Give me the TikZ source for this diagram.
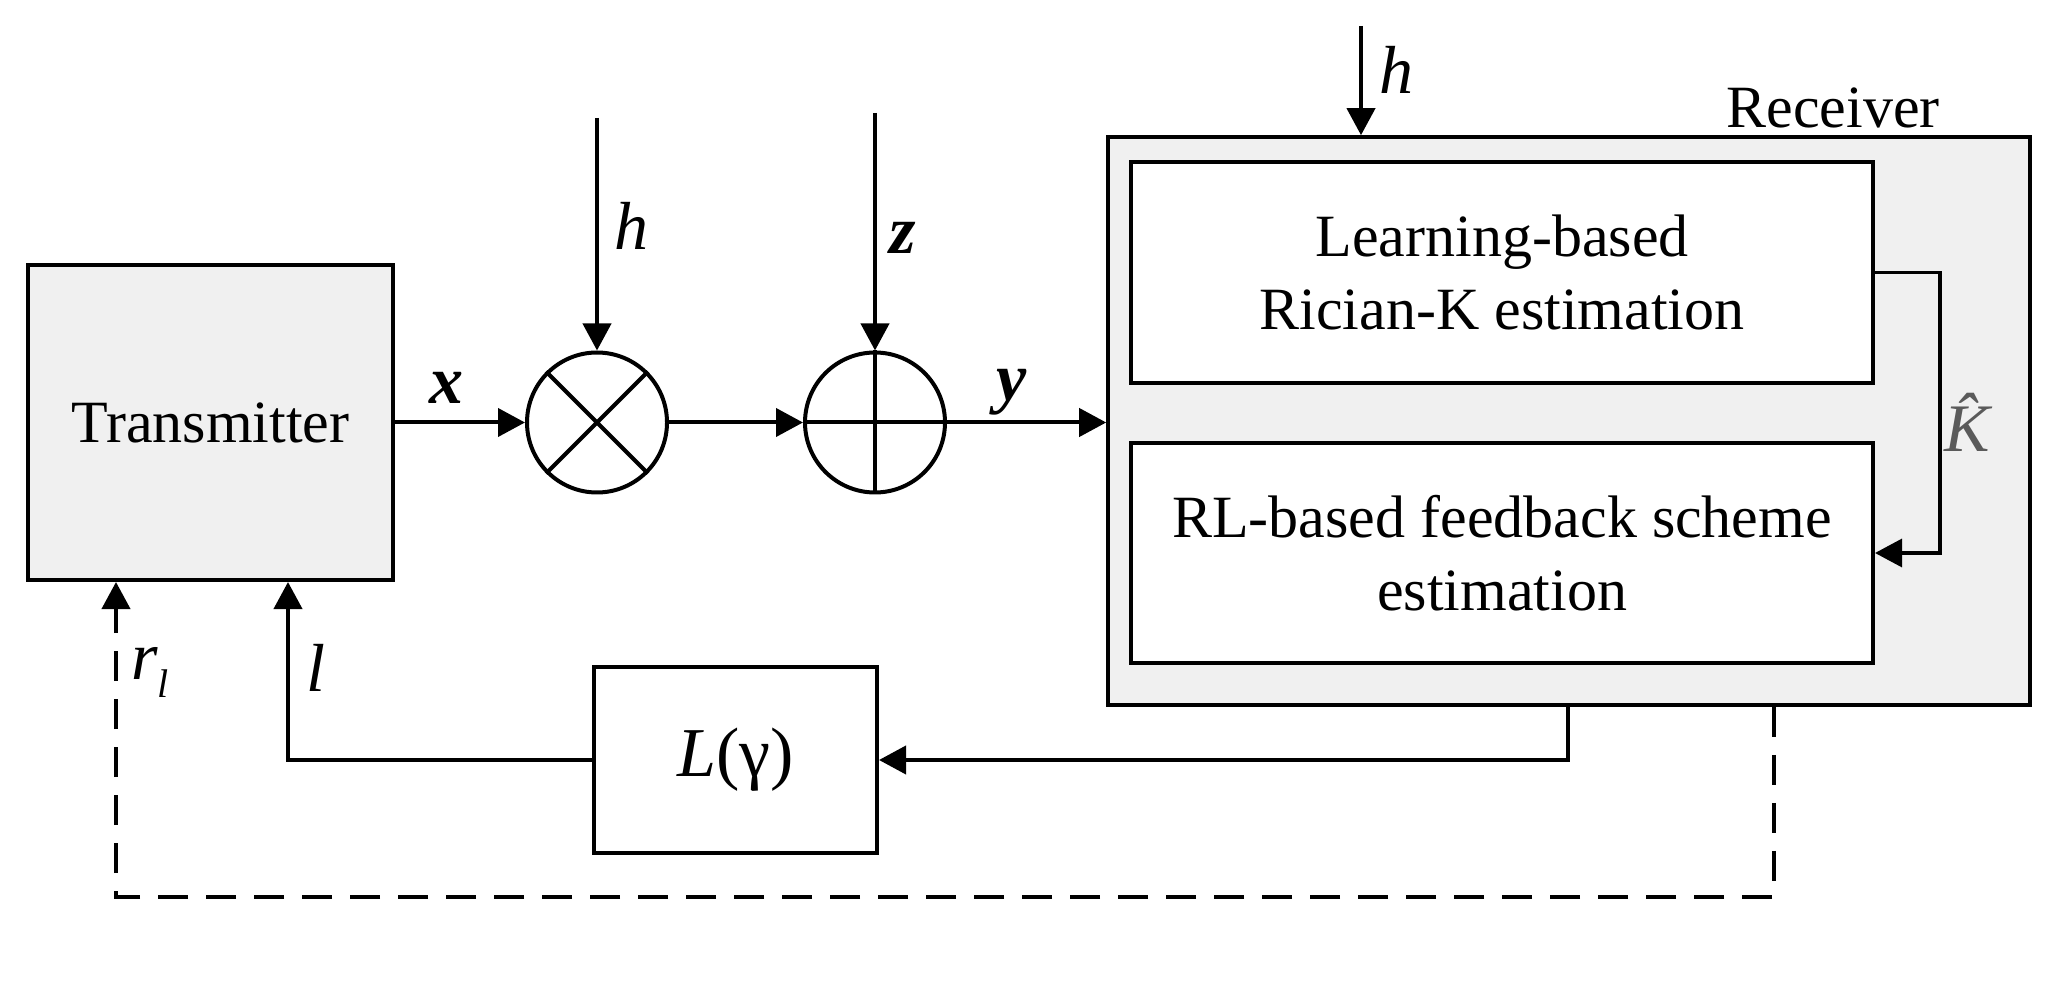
\documentclass[tikz,border=0pt]{standalone}
\usepackage{fontspec}
\setmainfont{Liberation Serif}
\usetikzlibrary{arrows.meta,calc}
\definecolor{bgc}{HTML}{F0F0F0}
\definecolor{kgray}{HTML}{5A5A5A}
\begin{document}
\begin{tikzpicture}[x=0.5pt,y=-0.5pt,
  box/.style={draw,line width=2pt,inner sep=0pt,align=center,font=\fontsize{30}{36.5}\selectfont},
  mixer/.style={draw,circle,line width=2pt,inner sep=0pt,minimum size=70pt},
  arr/.style={line width=2pt,-{Triangle[length=13.5pt,width=14pt]}},
  lab/.style={inner sep=0pt,font=\fontsize{34}{40}\selectfont},
  ]
\useasboundingbox (0,0) rectangle (2048,1004);
% nodes
\node[box,fill=bgc,minimum width=182.5pt,minimum height=157.5pt] (tx) at (210.5,422.5) {Transmitter};
\node[mixer] (mul) at (597,422.5) {};
\draw[line width=2pt] (mul.north west) -- (mul.south east) (mul.north east) -- (mul.south west);
\node[mixer] (add) at (875,422.5) {};
\draw[line width=2pt] (add.north) -- (add.south) (add.west) -- (add.east);
\node[box,fill=bgc,line width=1.8pt,minimum width=461pt,minimum height=284pt] (rx) at (1569,421) {};
\node[box,fill=white,minimum width=371pt,minimum height=110.5pt] (est) at (1502,272.5) {Learning-based\\Rician-K estimation};
\node[box,fill=white,minimum width=371pt,minimum height=110pt] (rl) at (1502,553) {RL-based feedback scheme\\estimation};
\node[box,minimum width=141.5pt,minimum height=93pt,font=\fontsize{35}{40}\selectfont] (lg) at (735.5,760) {\textit{L}(γ)};
% free ends
\coordinate (hA) at (597,118);
\coordinate (zA) at (875,113);
\coordinate (hB) at (1361,26);
% connectors
\draw[arr] (tx.east) -- (mul.west);
\draw[arr] (mul.east) -- (add.west);
\draw[arr] (add.east) -- (add.east -| rx.west);
\draw[arr] (hA) -- (mul.north);
\draw[arr] (zA) -- (add.north);
\draw[arr] (hB) -- (hB |- rx.north);
\draw[line width=1.6pt,-{Triangle[length=13.5pt,width=14pt]}] (est.east) -- ++(65,0) |- (rl.east);
\draw[arr] ([xshift=231pt]rx.south west) |- (lg.east);
\draw[arr] (lg.west) -| ([xshift=131pt]tx.south west);
\draw[arr,dash pattern=on 15pt off 9pt] ([xshift=334pt]rx.south west) -- ++(0,190) -| ([xshift=45pt]tx.south west);
% labels
\node[lab] (lh1) at (631,226) {\textit{h}};
\node[lab] (lz) at (903,238) {\textbf{\textit{z}}};
\node[lab] (lx) at (446,388) {\textbf{\textit{x}}};
\node[lab] (ly) at (1012,392) {\textbf{\textit{y}}};
\node[lab] (lh2) at (1396,70) {\textit{h}};
\node[lab,font=\fontsize{30}{36}\selectfont] (lrx) at (1833,108) {Receiver};
\node[lab,text=kgray] (lk) at (1980,422) {\textit{\^{K}}};
\node[lab] (ll) at (316,668) {\textit{l}};
\node[lab] (lr) at (150,672) {\textit{r}\raisebox{-9pt}{\fontsize{20}{20}\selectfont\textit{l}}};
\end{tikzpicture}
\end{document}
